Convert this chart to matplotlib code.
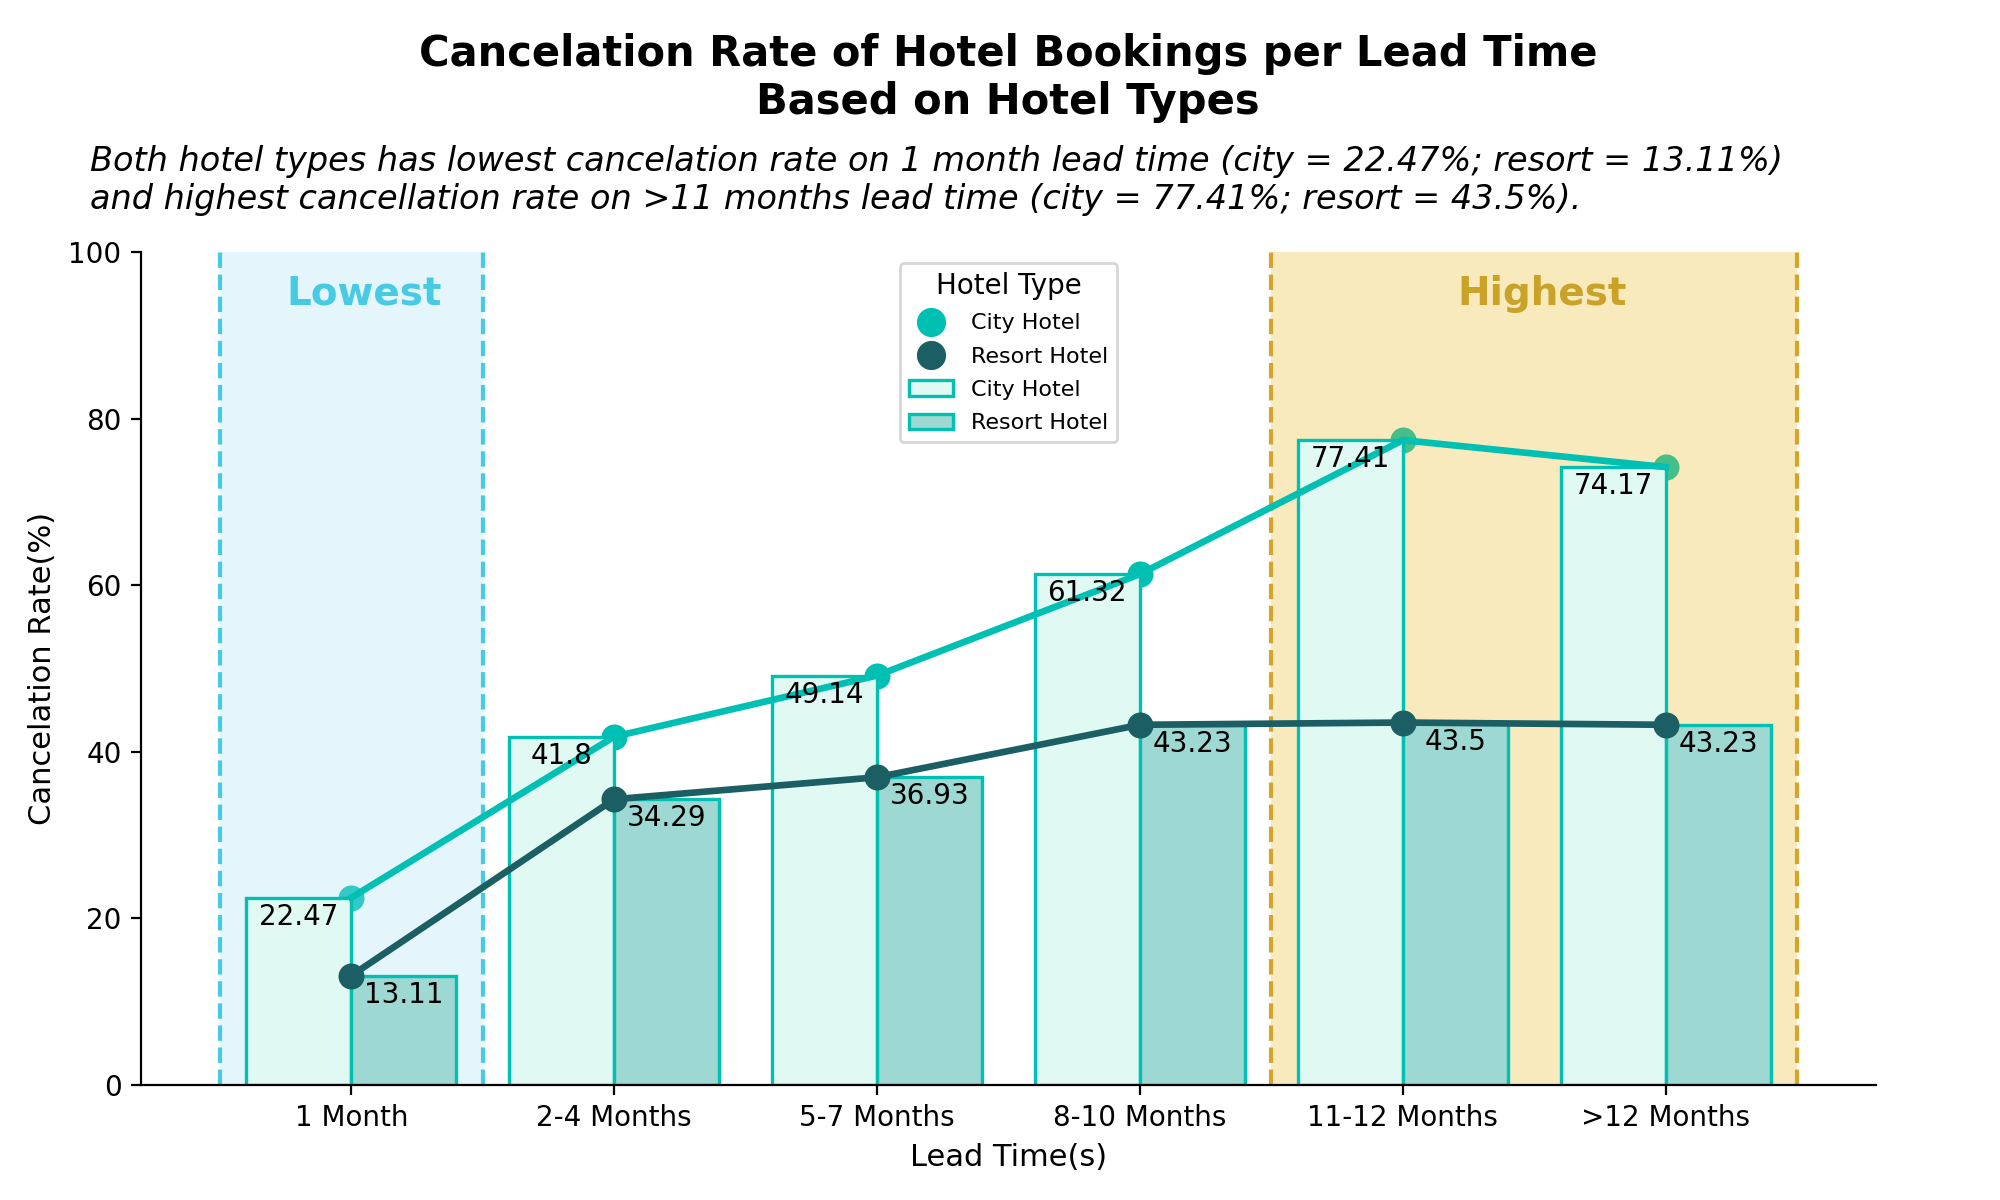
import numpy as np
import matplotlib
matplotlib.use('Agg')
import matplotlib.pyplot as plt
from matplotlib.lines import Line2D
from matplotlib.patches import Patch

# data
lead_time = ['1 Month', '2-4 Months', '5-7 Months', '8-10 Months', '11-12 Months', '>12 Months']
city = [22.47, 41.8, 49.14, 61.32, 77.41, 74.17]
resort = [13.11, 34.29, 36.93, 43.23, 43.5, 43.23]

title = 'Cancelation Rate of Hotel Bookings per Lead Time\nBased on Hotel Types'
subtitle = ('Both hotel types has lowest cancelation rate on 1 month lead time (city = 22.47%; resort = 13.11%)\n'
            'and highest cancellation rate on >11 months lead time (city = 77.41%; resort = 43.5%).')

c_city = '#00BFB3'
c_resort = '#1B5E63'
c_cbar = '#E0FAF3'
c_rbar = '#9ED8D2'
c_low = '#48CAE4'
c_high = '#D4A52A'

fig = plt.figure(figsize=(10, 6), dpi=200)
ax = fig.add_axes([0.0705, 0.096, 0.8675, 0.694])

x = np.arange(len(lead_time))
w = 0.4

# city markers sit under the shaded spans (they look tinted in the reference)
ax.scatter(x, city, s=70, color=c_city, zorder=0.5)

# lowest / highest regions
ax.axvspan(-0.5, 0.5, color='#A8E1F2', alpha=0.3, lw=0, zorder=1)
ax.axvspan(3.5, 5.5, color='#E8BC26', alpha=0.3, lw=0, zorder=1)
for xv in [-0.5, 0.5]:
    ax.axvline(xv, color=c_low, ls='--', lw=1.5, zorder=1.2)
for xv in [3.5, 5.5]:
    ax.axvline(xv, color=c_high, ls='--', lw=1.5, zorder=1.2)
ax.text(0.05, 95, 'Lowest', color=c_low, fontsize=14, weight='bold', ha='center', va='center')
ax.text(4.53, 95, 'Highest', color='#C9A227', fontsize=14, weight='bold', ha='center', va='center')

# bars
ax.bar(x - w/2, city, width=w, color=c_cbar, edgecolor=c_city, lw=1.2, zorder=2)
ax.bar(x + w/2, resort, width=w, color=c_rbar, edgecolor=c_city, lw=1.2, zorder=2)

# lines
ax.plot(x, city, color=c_city, lw=2.4, zorder=3)
ax.plot(x, resort, color=c_resort, lw=2.4, zorder=3)
ax.scatter(x, resort, s=70, color=c_resort, zorder=4)

for i in range(len(x)):
    ax.text(x[i] - w/2, city[i] - 0.6, str(city[i]), ha='center', va='top', fontsize=10, zorder=5)
    ax.text(x[i] + w/2, resort[i] - 0.6, str(resort[i]), ha='center', va='top', fontsize=10, zorder=5)

ax.set_ylim(0, 100)
ax.set_xlim(-0.8, 5.8)
ax.set_xticks(x)
ax.set_xticklabels(lead_time, fontsize=10)
ax.tick_params(axis='y', labelsize=10)
ax.set_xlabel('Lead Time(s)', fontsize=11)
ax.set_ylabel('Cancelation Rate(%)', fontsize=11)
ax.spines['top'].set_visible(False)
ax.spines['right'].set_visible(False)

handles = [Line2D([], [], marker='o', ls='', color=c_city, markersize=9.5),
           Line2D([], [], marker='o', ls='', color=c_resort, markersize=9.5),
           Patch(facecolor=c_cbar, edgecolor=c_city, lw=1.2),
           Patch(facecolor=c_rbar, edgecolor=c_city, lw=1.2)]
ax.legend(handles, ['City Hotel', 'Resort Hotel', 'City Hotel', 'Resort Hotel'],
          title='Hotel Type', loc='upper center', fontsize=8, title_fontsize=10,
          labelspacing=0.6)

fig.text(0.504, 0.935, title, ha='center', va='center', fontsize=15, weight='bold')
fig.text(0.045, 0.8496, subtitle, ha='left', va='center', fontsize=12.05, style='italic')

fig.savefig('out.png', dpi=200)
